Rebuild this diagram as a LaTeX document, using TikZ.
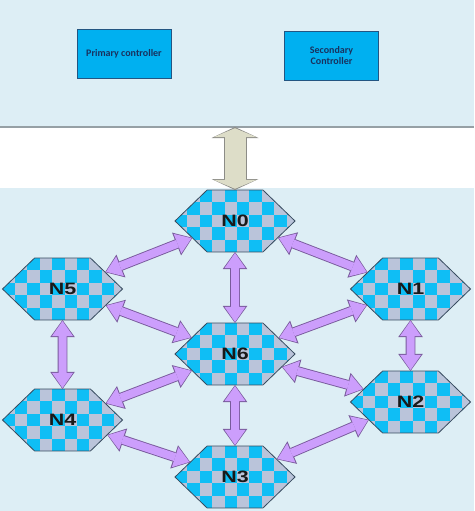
\documentclass[tikz,border=0pt]{standalone}
\usepackage{fontspec}
\setmainfont{Liberation Sans}
\newfontfamily\ctrlfont{Carlito}
\newfontfamily\hexfont[FakeStretch=1.3]{Liberation Sans}
\usetikzlibrary{shapes.symbols, arrows.meta}

\definecolor{panelblue}{RGB}{221,238,245}
\definecolor{panelline}{RGB}{150,160,165}
\definecolor{ctrlfill}{RGB}{0,176,240}
\definecolor{ctrledge}{RGB}{35,85,130}
\definecolor{ctrltext}{RGB}{25,50,95}
\definecolor{checkcyan}{RGB}{15,190,245}
\definecolor{checkgrey}{RGB}{186,196,218}
\definecolor{hexedge}{RGB}{55,75,95}
\definecolor{linkfill}{RGB}{204,158,252}
\definecolor{linkedge}{RGB}{120,90,155}
\definecolor{busfill}{RGB}{221,221,200}
\definecolor{busedge}{RGB}{140,140,135}

\tikzset{
  panel/.style={fill=panelblue, minimum width=474pt, minimum height=127pt, inner sep=0pt, outer sep=0pt},
  ctrlbox/.style={draw=ctrledge, fill=ctrlfill, line width=0.9pt, minimum width=94pt, minimum height=49pt,
    align=center, text=ctrltext, font=\ctrlfont\bfseries\fontsize{10}{10.5}\selectfont},
  hexnode/.style={signal, signal to=west and east, signal pointer angle=88,
    minimum width=120pt, minimum height=62pt, inner sep=0pt, outer sep=0pt,
    draw=hexedge, line width=0.8pt, text=black!90, font=\hexfont\bfseries\fontsize{16.5}{17}\selectfont,
    path picture={
      \fill[checkgrey] (path picture bounding box.south west) rectangle (path picture bounding box.north east);
      \foreach \i in {0,...,9}
        \foreach \j in {0,...,4} {
          \pgfmathtruncatemacro\checkpar{mod(\i+\j,2)}
          \ifnum\checkpar=0
            \fill[checkcyan] ([shift={(\i*12.4pt,\j*12.4pt)}]path picture bounding box.south west) rectangle +(12.4pt,12.4pt);
          \fi
        }
    }},
  linkarrow/.style={draw=linkfill, line width=8pt,
    arrows={Triangle[length=15pt,width=21pt,line width=0pt]-Triangle[length=15pt,width=21pt,line width=0pt]},
    shorten <=1pt, shorten >=1pt,
    preaction={draw=linkedge, line width=9.8pt, shorten <=0pt, shorten >=0pt,
      arrows={Triangle[length=17pt,width=24.5pt,line width=0pt]-Triangle[length=17pt,width=24.5pt,line width=0pt]}}},
  busarrow/.style={draw=busfill, line width=21pt,
    arrows={Triangle[length=9pt,width=43pt,line width=0pt]-Triangle[length=9pt,width=43pt,line width=0pt]},
    shorten <=1.2pt, shorten >=1.2pt,
    preaction={draw=busedge, line width=23pt, shorten <=0pt, shorten >=0pt,
      arrows={Triangle[length=11pt,width=47pt,line width=0pt]-Triangle[length=11pt,width=47pt,line width=0pt]}}}
}

\begin{document}
\begin{tikzpicture}[x=1pt, y=-1pt]

\useasboundingbox (0,0) rectangle (474,511);

\node[panel] (ctrlpanel) at (237,63.5) {};
\draw[panelline, line width=1.2pt] (ctrlpanel.south west) -- (ctrlpanel.south east);
\fill[panelblue] (0,188) rectangle (474,511);

\node[ctrlbox] (primary) at (124,53.5) {Primary controller};
\node[ctrlbox] (secondary) at (331.5,55.5) {Secondary\\Controller};

\node[hexnode] (n0) at (235,221) {N0};
\node[hexnode] (n5) at (62.5,289) {N5};
\node[hexnode] (n1) at (410.5,289) {N1};
\node[hexnode] (n6) at (235,354) {N6};
\node[hexnode] (n2) at (410.5,402) {N2};
\node[hexnode] (n4) at (62.5,420) {N4};
\node[hexnode] (n3) at (235,477) {N3};

\draw[busarrow] (ctrlpanel.south -| n0.north) -- (n0.north);

\draw[linkarrow] (n0) -- (n5);
\draw[linkarrow] (n0) -- (n1);
\draw[linkarrow] (n0) -- (n6);
\draw[linkarrow] (n5) -- (n6);
\draw[linkarrow] (n1) -- (n6);
\draw[linkarrow] (n5) -- (n4);
\draw[linkarrow] (n1) -- (n2);
\draw[linkarrow] (n6) -- (n4);
\draw[linkarrow] (n6) -- (n2);
\draw[linkarrow] (n6) -- (n3);
\draw[linkarrow] (n4) -- (n3);
\draw[linkarrow] (n2) -- (n3);

\end{tikzpicture}
\end{document}
